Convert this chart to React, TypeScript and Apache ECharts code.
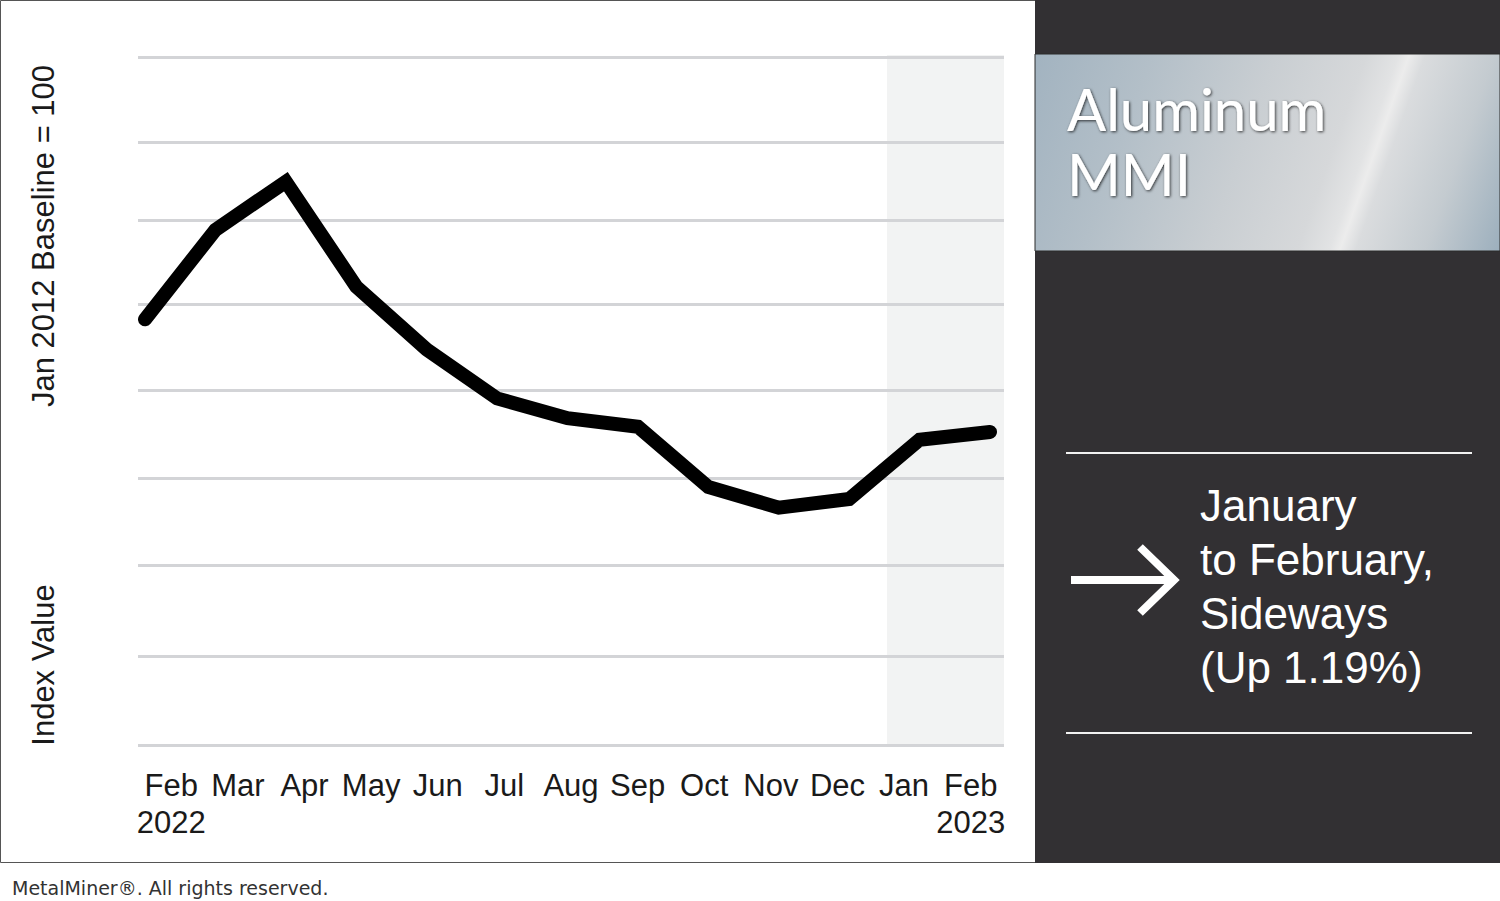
import React, { useEffect, useRef } from "react";
import * as echarts from "echarts";

const months = ["Feb\n2022", "Mar", "Apr", "May", "Jun", "Jul", "Aug", "Sep", "Oct", "Nov", "Dec", "Jan", "Feb\n2023"];
const indexValues = [109.5, 119.9, 125.5, 113.3, 106.0, 100.3, 98.0, 97.0, 90.0, 87.6, 88.6, 95.5, 96.4];
const gridValues = [140, 130.1, 121.0, 111.2, 101.3, 91.0, 80.9, 70.3, 60];
const yMin = 60;
const yMax = 140;
const titleLines = ["Aluminum", "MMI"];
const summaryLines = ["January", "to February,", "Sideways", "(Up 1.19%)"];
const axisTitleTop = "Jan 2012 Baseline = 100";
const axisTitleBottom = "Index Value";
const footer = "MetalMiner®. All rights reserved.";

export default function App() {
  const ref = useRef<HTMLDivElement>(null);
  useEffect(() => {
    if (!ref.current) return;
    const chart = echarts.init(ref.current, undefined, { renderer: "svg" });
    const sans = "Liberation Sans";
    chart.setOption({
      animation: false,
      backgroundColor: "#ffffff",
      grid: [
        { left: 145, right: 1500 - 990, top: 57, height: 688 },
        { left: 138, right: 1500 - 1004, top: 57, height: 688 },
      ],
      xAxis: [
        { type: "category", gridIndex: 0, data: months, boundaryGap: false, show: false },
        {
          type: "category",
          gridIndex: 1,
          data: months,
          boundaryGap: true,
          axisLine: { show: false },
          axisTick: { show: false },
          splitLine: { show: false },
          axisLabel: {
            interval: 0,
            margin: 22,
            fontFamily: sans,
            fontSize: 31,
            lineHeight: 37,
            color: "#1a1a1a",
          },
        },
      ],
      yAxis: [
        { type: "value", gridIndex: 0, min: yMin, max: yMax, show: false },
        { type: "value", gridIndex: 1, min: yMin, max: yMax, show: false },
      ],
      series: [
        {
          type: "line",
          xAxisIndex: 1,
          yAxisIndex: 1,
          data: months.map(() => null),
          z: 1,
          silent: true,
          markLine: {
            silent: true,
            symbol: ["none", "none"],
            label: { show: false },
            lineStyle: { color: "#d3d4d7", width: 3, type: "solid" },
            data: gridValues.map((v) => ({ yAxis: v })),
          },
        },
        {
          type: "line",
          xAxisIndex: 0,
          yAxisIndex: 0,
          data: indexValues,
          z: 5,
          symbol: "none",
          lineStyle: { color: "#000000", width: 14, cap: "round", join: "miter" },
        },
      ],
      graphic: [
        {
          type: "rect",
          z: -10,
          shape: { x: 887, y: 55, width: 117, height: 690 },
          style: { fill: "#f2f3f3" },
        },
        {
          type: "rect",
          z: 10,
          shape: { x: 0.5, y: 0.5, width: 1035, height: 862 },
          style: { fill: "none", stroke: "#555555", lineWidth: 1 },
        },
        {
          type: "rect",
          z: 11,
          shape: { x: 1035, y: 0, width: 465, height: 863 },
          style: { fill: "#323033" },
        },
        {
          type: "rect",
          z: 12,
          shape: { x: 1035, y: 54, width: 465, height: 197 },
          style: {
            fill: new echarts.graphic.LinearGradient(
              1035,
              54,
              1510,
              223,
              [
                { offset: 0, color: "#a2b3c0" },
                { offset: 0.22, color: "#b3bfc8" },
                { offset: 0.45, color: "#c9ced2" },
                { offset: 0.62, color: "#d6d8da" },
                { offset: 0.68, color: "#e2e3e4" },
                { offset: 0.7, color: "#ececec" },
                { offset: 0.73, color: "#dadcde" },
                { offset: 0.86, color: "#c4cbd0" },
                { offset: 1, color: "#9cafbd" },
              ],
              true
            ),
            stroke: "#2a2a2a",
            lineWidth: 1,
          },
        },
        {
          type: "text",
          z: 13,
          x: 1067,
          y: 76,
          style: {
            text: titleLines.join("\n"),
            fill: "#ffffff",
            fontFamily: "Lato",
            fontSize: 58,
            lineHeight: 65,
            textShadowColor: "rgba(0,0,0,0.75)",
            textShadowBlur: 3,
            textShadowOffsetX: 1,
            textShadowOffsetY: 1,
          },
        },
        {
          type: "line",
          z: 13,
          shape: { x1: 1066, y1: 453, x2: 1472, y2: 453 },
          style: { stroke: "#f2f2f2", lineWidth: 2 },
        },
        {
          type: "line",
          z: 13,
          shape: { x1: 1066, y1: 733, x2: 1472, y2: 733 },
          style: { stroke: "#f2f2f2", lineWidth: 2 },
        },
        {
          type: "polyline",
          z: 13,
          shape: { points: [[1071, 580], [1174, 580]] },
          style: { stroke: "#ffffff", lineWidth: 8, fill: "none" },
        },
        {
          type: "polyline",
          z: 13,
          shape: { points: [[1140, 547], [1174, 580], [1140, 613]] },
          style: { stroke: "#ffffff", lineWidth: 8, fill: "none", lineJoin: "miter" },
        },
        {
          type: "text",
          z: 13,
          x: 1200,
          y: 478,
          style: {
            text: summaryLines.join("\n"),
            fill: "#ffffff",
            fontFamily: sans,
            fontSize: 44,
            lineHeight: 54,
          },
        },
        {
          type: "text",
          z: 13,
          x: 43,
          y: 236,
          rotation: Math.PI / 2,
          style: {
            text: axisTitleTop,
            fill: "#1a1a1a",
            fontFamily: sans,
            fontSize: 31,
            align: "center",
            verticalAlign: "middle",
          },
        },
        {
          type: "text",
          z: 13,
          x: 43,
          y: 665,
          rotation: Math.PI / 2,
          style: {
            text: axisTitleBottom,
            fill: "#1a1a1a",
            fontFamily: sans,
            fontSize: 31,
            align: "center",
            verticalAlign: "middle",
          },
        },
        {
          type: "text",
          z: 13,
          x: 12,
          y: 888,
          style: {
            text: footer,
            fill: "#333333",
            fontFamily: "DejaVu Sans",
            fontSize: 19,
            verticalAlign: "middle",
          },
        },
      ],
    });
    return () => chart.dispose();
  }, []);
  return <div ref={ref} style={{ position: "absolute", left: 0, top: 0, width: 1500, height: 901 }} />;
}
